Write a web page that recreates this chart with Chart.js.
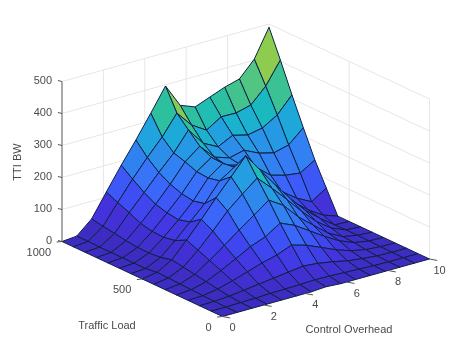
<!DOCTYPE html>
<html>
<head>
<meta charset="utf-8">
<script src="https://cdn.jsdelivr.net/npm/chart.js@4"></script>
<style>
body { margin: 0; background: #fff; }
canvas { display: block; }
</style>
</head>
<body>
<canvas id="chart" width="474" height="355"></canvas>
<script>
// surface samples
var controlOverhead = [0, 0.71, 1.43, 2.14, 2.86, 3.57, 4.29, 5, 5.71, 6.43, 7.14, 7.86, 8.57, 9.29, 10];
var trafficLoad = [0, 71, 143, 214, 286, 357, 429, 500, 571, 643, 714, 786, 857, 929, 1000];
var ttiBw = [
    [0, 0, 0, 0, 0, 0, 0, 3, 0, 0, 0, 0, 0, 0, 0],
    [0, 0, 1, 2, 4, 5, 6, 8, 7, 5, 3, 1, 0, 0, 0],
    [0, 1, 4, 10, 16, 22, 28, 34, 30, 22, 12, 6, 2, 0, 0],
    [0, 2, 10, 23, 38, 53, 65, 83, 70, 50, 30, 14, 5, 1, 0],
    [0, 4, 16, 38, 62, 87, 105, 135, 115, 85, 55, 28, 10, 2, 0],
    [0, 5, 22, 53, 87, 122, 156, 190, 161, 112, 74, 36, 12, 3, 0],
    [0, 7, 28, 68, 115, 165, 205, 242, 198, 150, 100, 55, 22, 3, 0],
    [0, 8, 34, 83, 135, 190, 242, 295, 237, 178, 124, 74, 36, 2, 0],
    [0, 3, 25, 65, 110, 155, 213, 243, 230, 183, 127, 83, 45, 16, 0],
    [0, 3, 22, 58, 100, 146, 205, 238, 210, 185, 137, 98, 65, 41, 71],
    [0, 3, 23, 60, 105, 152, 208, 240, 203, 190, 171, 133, 120, 114, 142],
    [0, 3, 27, 68, 115, 165, 222, 258, 211, 196, 207, 185, 173, 185, 226],
    [0, 3, 33, 85, 135, 185, 233, 292, 238, 214, 237, 225, 234, 262, 312],
    [0, 4, 38, 100, 160, 215, 266, 328, 278, 249, 278, 277, 289, 335, 404],
    [0, 4, 45, 116, 187, 253, 324, 396, 323, 305, 323, 341, 354, 403, 490]
];
var xTicks = [0, 2, 4, 6, 8, 10];
var yTicks = [0, 500, 1000];
var zTicks = [0, 100, 200, 300, 400, 500];

var colorStops = [
    [0, 62, 44, 192], [0.1, 68, 50, 222], [0.2, 62, 76, 244], [0.3, 58, 110, 252],
    [0.45, 42, 146, 232], [0.55, 28, 172, 216], [0.6, 26, 188, 186], [0.66, 44, 192, 160],
    [0.82, 140, 204, 80], [1, 249, 224, 32]
];

// fixed view of the box, same as the matlab camera
function px(x, y) { return 222.5 + 20.7 * x - 0.1605 * y; }
function py(x, y, z) { return 316.5 - 5.75 * x - 0.075 * y - 0.32 * z; }
function pt(x, y, z) { return {x: px(x, y), y: py(x, y, z)}; }

function colorFor(z) {
    var t = Math.min(z / 490, 1);
    for (var k = 1; k < colorStops.length; k++) {
        if (t <= colorStops[k][0]) {
            var a = colorStops[k - 1], b = colorStops[k];
            var f = (t - a[0]) / (b[0] - a[0]);
            return 'rgb(' + [1, 2, 3].map(function (c) { return Math.round(a[c] + (b[c] - a[c]) * f); }).join(',') + ')';
        }
    }
    return 'rgb(249,224,32)';
}

function line(points, color, width) {
    return {data: points, showLine: true, fill: false, borderColor: color, borderWidth: width, pointRadius: 0, tension: 0};
}

var datasets = [];

// first dataset is painted last, so nearest things go first
xTicks.forEach(function (v) {
    datasets.push(line([pt(v, 0, 0), pt(v + 0.14, -30, 0)], '#555', 1));
});
yTicks.forEach(function (v) {
    datasets.push(line([pt(0, v, 0), pt(-0.2, v + 8, 0)], '#555', 1));
});
zTicks.forEach(function (v) {
    datasets.push(line([pt(0, 1000, v), {x: px(0, 1000) - 4, y: py(0, 1000, v) - 1}], '#555', 1));
});
datasets.push(line([pt(0, 1000, 0), pt(0, 1000, 500)], '#555', 1));

for (var j = 0; j < trafficLoad.length - 1; j++) {
    for (var i = 0; i < controlOverhead.length - 1; i++) {
        var x0 = controlOverhead[i], x1 = controlOverhead[i + 1];
        var y0 = trafficLoad[j], y1 = trafficLoad[j + 1];
        datasets.push({
            data: [
                pt(x0, y0, ttiBw[j][i]), pt(x1, y0, ttiBw[j][i + 1]),
                pt(x1, y1, ttiBw[j + 1][i + 1]), pt(x0, y1, ttiBw[j + 1][i]),
                pt(x0, y0, ttiBw[j][i])
            ],
            showLine: true,
            fill: 'shape',
            backgroundColor: colorFor(ttiBw[j + 1][i]),
            borderColor: '#0d1f45',
            borderWidth: 1,
            pointRadius: 0,
            tension: 0
        });
    }
}

// back walls
zTicks.slice(1).forEach(function (v) {
    datasets.push(line([pt(0, 1000, v), pt(10, 1000, v), pt(10, 0, v)], '#e6e6e6', 1));
});
xTicks.slice(1).forEach(function (v) {
    datasets.push(line([pt(v, 1000, 0), pt(v, 1000, 500)], '#e6e6e6', 1));
});
yTicks.slice(0, 2).forEach(function (v) {
    datasets.push(line([pt(10, v, 0), pt(10, v, 500)], '#e6e6e6', 1));
});

var axisText = {
    id: 'axisText',
    afterDraw: function (chart) {
        var ctx = chart.ctx, sx = chart.scales.x, sy = chart.scales.y;
        ctx.save();
        ctx.fillStyle = '#4a4a4a';
        ctx.font = '11px "Liberation Sans"';
        ctx.textBaseline = 'middle';
        ctx.textAlign = 'right';
        zTicks.forEach(function (v) {
            ctx.fillText(String(v), sx.getPixelForValue(px(0, 1000)) - 10, sy.getPixelForValue(py(0, 1000, v)) - 1);
        });
        yTicks.forEach(function (v) {
            ctx.fillText(String(v), sx.getPixelForValue(px(0, v)) - 11, sy.getPixelForValue(py(0, v, 0)) + 11);
        });
        ctx.textAlign = 'center';
        xTicks.forEach(function (v) {
            ctx.fillText(String(v), sx.getPixelForValue(px(v, 0)) + 10, sy.getPixelForValue(py(v, 0, 0)) + 11.5);
        });
        ctx.fillText('Traffic Load', 107, 326);
        ctx.fillText('Control Overhead', 349, 330);
        ctx.translate(18, 162);
        ctx.rotate(-Math.PI / 2);
        ctx.fillText('TTI BW', 0, 0);
        ctx.restore();
    }
};

new Chart(document.getElementById('chart').getContext('2d'), {
    type: 'scatter',
    data: {datasets: datasets},
    options: {
        responsive: false,
        animation: false,
        layout: {padding: 0},
        scales: {
            x: {type: 'linear', min: 0, max: 474, display: false},
            y: {type: 'linear', min: 0, max: 355, reverse: true, display: false}
        },
        plugins: {legend: {display: false}, tooltip: {enabled: false}}
    },
    plugins: [axisText]
});
</script>
</body>
</html>
